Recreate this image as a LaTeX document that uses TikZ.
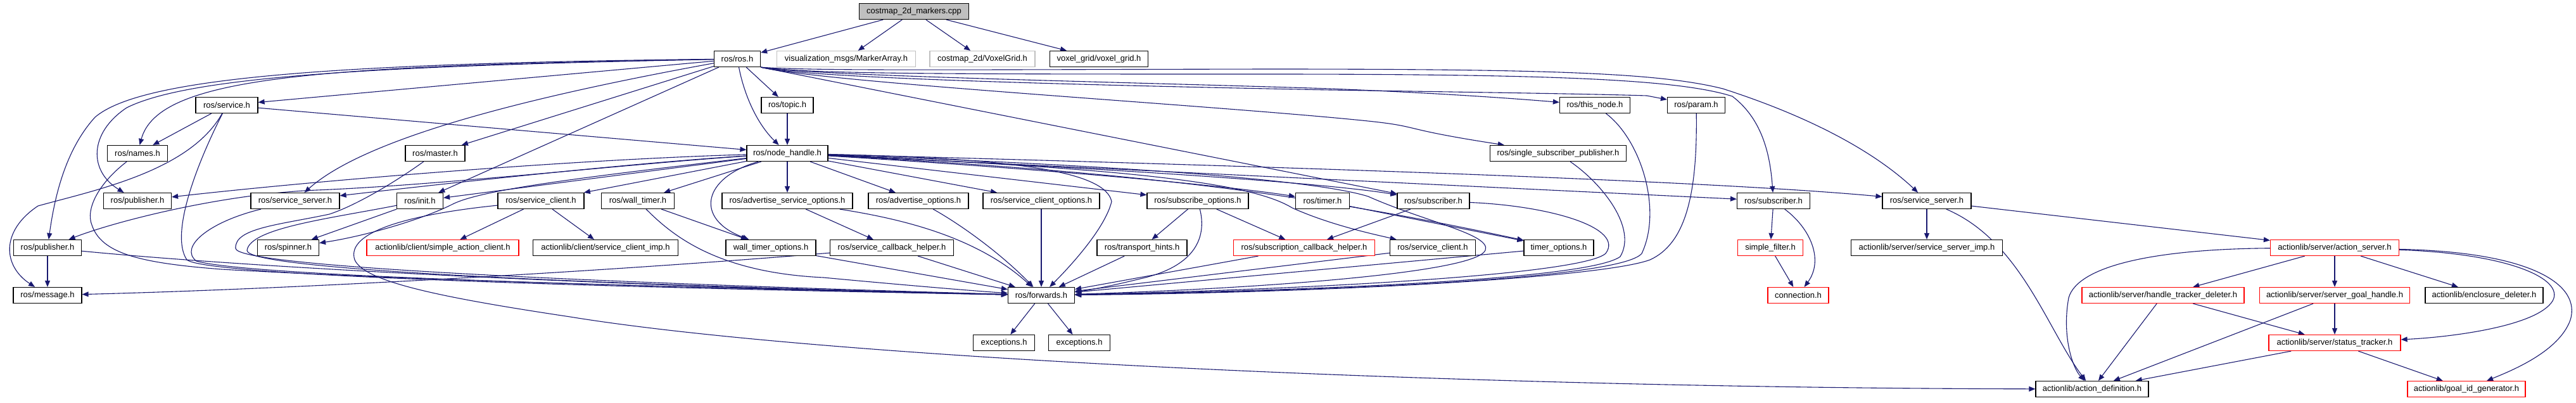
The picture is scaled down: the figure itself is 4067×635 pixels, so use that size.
\documentclass[tikz,border=0pt]{standalone}
\usepackage{fontspec}
\setmainfont{Liberation Sans}
\usetikzlibrary{arrows.meta}
\definecolor{edgec}{RGB}{25,25,112}
\definecolor{lgray}{RGB}{191,191,191}
\pgfdeclarelayer{background}
\pgfsetlayers{background,main}
\tikzset{
  box/.style={draw=black, line width=1.2pt, fill=white, minimum height=25pt, inner sep=0pt, font=\fontsize{13}{15}\selectfont},
  rbox/.style={box, draw=red},
  gbox/.style={box, draw=lgray},
  dep/.style={draw=edgec, line width=1.1pt, -{Triangle[length=10pt,width=8pt]}},
}
\begin{document}
\begin{tikzpicture}[x=1pt,y=-1pt]
\useasboundingbox (0,0) rectangle (4067,635);
% ---------- nodes ----------
\node[box,fill=lgray,minimum width=173pt] (cpp) at (1443,18) {costmap\_2d\_markers.cpp};
\node[box,minimum width=73pt] (ros) at (1164,93) {ros/ros.h};
\node[gbox,minimum width=219pt] (marker) at (1336,93) {visualization\_msgs/MarkerArray.h};
\node[gbox,minimum width=166pt] (vgc) at (1551,93) {costmap\_2d/VoxelGrid.h};
\node[box,minimum width=155pt] (vg) at (1735,93) {voxel\_grid/voxel\_grid.h};
\node[box,minimum width=98pt] (service) at (358,166) {ros/service.h};
\node[box,minimum width=82pt] (topic) at (1243,166) {ros/topic.h};
\node[box,minimum width=111pt] (thisnode) at (2518,166) {ros/this\_node.h};
\node[box,minimum width=91pt] (param) at (2678,166) {ros/param.h};
\node[box,minimum width=95pt] (names) at (217,242) {ros/names.h};
\node[box,minimum width=94pt] (master) at (687,242) {ros/master.h};
\node[box,minimum width=128pt] (nh) at (1243,242) {ros/node\_handle.h};
\node[box,minimum width=215pt] (ssp) at (2460,242) {ros/single\_subscriber\_publisher.h};
\node[box,minimum width=107pt] (pubA) at (217,317) {ros/publisher.h};
\node[box,minimum width=140pt] (ssA) at (466,317) {ros/service\_server.h};
\node[box,minimum width=73pt] (init) at (663,317) {ros/init.h};
\node[box,minimum width=136pt] (scA) at (854,317) {ros/service\_client.h};
\node[box,minimum width=115pt] (wt) at (1007,317) {ros/wall\_timer.h};
\node[box,minimum width=206pt] (aso) at (1243,317) {ros/advertise\_service\_options.h};
\node[box,minimum width=158pt] (ao) at (1450,317) {ros/advertise\_options.h};
\node[box,minimum width=184pt] (sco) at (1644,317) {ros/service\_client\_options.h};
\node[box,minimum width=160pt] (subo) at (1891,317) {ros/subscribe\_options.h};
\node[box,minimum width=85pt] (timer) at (2088,317) {ros/timer.h};
\node[box,minimum width=114pt] (subA) at (2263,317) {ros/subscriber.h};
\node[box,minimum width=115pt] (subB) at (2800,317) {ros/subscriber.h};
\node[box,minimum width=140pt] (ssB) at (3042,317) {ros/service\_server.h};
\node[box,minimum width=107pt] (pubB) at (75,391) {ros/publisher.h};
\node[box,minimum width=97pt] (spin) at (455,391) {ros/spinner.h};
\node[rbox,minimum width=240pt] (sac) at (699,391) {actionlib/client/simple\_action\_client.h};
\node[box,minimum width=229pt] (sci) at (956,391) {actionlib/client/service\_client\_imp.h};
\node[box,minimum width=142pt] (wto) at (1217,391) {wall\_timer\_options.h};
\node[box,minimum width=195pt] (sch) at (1408,391) {ros/service\_callback\_helper.h};
\node[box,minimum width=142pt] (th) at (1803,391) {ros/transport\_hints.h};
\node[rbox,minimum width=223pt] (scbh) at (2059,391) {ros/subscription\_callback\_helper.h};
\node[box,minimum width=135pt] (scB) at (2262,391) {ros/service\_client.h};
\node[box,minimum width=110pt] (to) at (2461,391) {timer\_options.h};
\node[rbox,minimum width=103pt] (sf) at (2795,391) {simple\_filter.h};
\node[box,minimum width=239pt] (ssi) at (3042,391) {actionlib/server/service\_server\_imp.h};
\node[rbox,minimum width=203pt] (as) at (3686,391) {actionlib/server/action\_server.h};
\node[box,minimum width=108pt] (msg) at (75,466) {ros/message.h};
\node[box,minimum width=105pt] (fw) at (1644,466) {ros/forwards.h};
\node[rbox,minimum width=96pt] (conn) at (2839,466) {connection.h};
\node[rbox,minimum width=256pt] (htd) at (3415,466) {actionlib/server/handle\_tracker\_deleter.h};
\node[rbox,minimum width=237pt] (sgh) at (3686,466) {actionlib/server/server\_goal\_handle.h};
\node[box,minimum width=186pt] (encl) at (3922,466) {actionlib/enclosure\_deleter.h};
\node[box,minimum width=97pt] (exc1) at (1585,541) {exceptions.h};
\node[box,minimum width=97pt] (exc2) at (1704,541) {exceptions.h};
\node[rbox,minimum width=208pt] (st) at (3686,541) {actionlib/server/status\_tracker.h};
\node[box,minimum width=178pt] (ad) at (3303,614) {actionlib/action\_definition.h};
\node[rbox,minimum width=186pt] (gid) at (3894,614) {actionlib/goal\_id\_generator.h};
% ---------- edges ----------
\begin{pgfonlayer}{background}
\fill[white] (0,0) rectangle (4067,635);
% cpp
\draw[dep] (cpp) -- (ros);
\draw[dep] (cpp) -- (marker);
\draw[dep] (cpp) -- (vgc);
\draw[dep] (cpp) -- (vg);
% ros
\draw[dep] (ros) -- (service);
\draw[dep] (ros) .. controls (500,104) and (250,120) .. (names);
\draw[dep] (ros) .. controls (600,104) and (300,120) .. (200,170) .. controls (140,210) and (140,270) .. (pubA);
\draw[dep] (ros) .. controls (500,100) and (220,125) .. (150,185) .. controls (100,240) and (85,320) .. (pubB);
\draw[dep] (ros) -- (master);
\draw[dep] (ros) -- (init);
\draw[dep] (ros) .. controls (850,150) and (580,215) .. (ssA);
\draw[dep] (ros) -- (topic);
\draw[dep] (ros) .. controls (1175,150) and (1195,195) .. (nh);
\draw[dep] (ros.south east) .. controls (1280,120) and (1800,130) .. (2100,140) .. controls (2300,148) and (2420,158) .. (thisnode);
\draw[dep] (ros.south east) .. controls (1280,125) and (1800,136) .. (2100,142) .. controls (2350,146) and (2500,148) .. (2600,151) -- (param);
\draw[dep] (ros.south east) .. controls (1300,130) and (1900,165) .. (2150,190) .. controls (2250,200) and (2200,202) .. (ssp);
\draw[dep] (ros.south east) -- (subA);
\draw[dep] (ros.south east) .. controls (1280,117) and (1500,117) .. (2000,117) .. controls (2450,117) and (2650,125) .. (2735,152) .. controls (2785,190) and (2795,250) .. (subB);
\draw[dep] (ros.south east) .. controls (1280,112) and (1500,110) .. (2000,109) .. controls (2450,109) and (2620,115) .. (2720,140) .. controls (2860,185) and (2960,240) .. (ssB);
% service
\draw[dep] (service) -- (names);
\draw[dep] (service) -- (nh);
\draw[dep] (service) .. controls (300,270) and (150,300) .. (60,325) .. controls (0,365) and (5,420) .. (msg);
\draw[dep] (service) .. controls (310,260) and (268,370) .. (295,410) .. controls (330,440) and (1200,458) .. (fw);
\draw[dep] (topic) -- (nh);
% names, master, init, ssA
\draw[dep] (names) .. controls (155,290) and (135,330) .. (145,355) .. controls (160,400) and (220,415) .. (350,425) .. controls (700,445) and (1200,456) .. (fw);
\draw[dep] (master) .. controls (620,290) and (560,325) .. (520,338) .. controls (440,355) and (370,360) .. (372,392) .. controls (374,420) and (900,445) .. (fw);
\draw[dep] (init) .. controls (520,345) and (395,360) .. (390,395) .. controls (388,425) and (900,448) .. (fw);
\draw[dep] (init) -- (spin);
\draw[dep] (ssA) .. controls (330,350) and (282,390) .. (310,412) .. controls (400,438) and (1100,454) .. (fw);
% publisher / message
\draw[dep] (pubB) -- (msg);
\draw[dep] (pubB) .. controls (500,432) and (1200,458) .. (fw);
\draw[dep] (sch) .. controls (1000,425) and (500,455) .. (msg);
\draw[dep] (sch) -- (fw);
% node_handle
\draw[dep] (nh) .. controls (900,252) and (500,285) .. (pubA);
\draw[dep] (nh) .. controls (1000,257) and (700,290) .. (ssA);
\draw[dep] (nh) -- (init);
\draw[dep] (nh) .. controls (900,282) and (760,300) .. (715,322) .. controls (670,345) and (580,372) .. (spin);
\draw[dep] (nh) .. controls (1000,258) and (700,292) .. (500,300) .. controls (350,306) and (180,350) .. (pubB);
\draw[dep] (nh) -- (scA);
\draw[dep] (nh) -- (wt);
\draw[dep] (nh) .. controls (1110,280) and (1095,345) .. (wto);
\draw[dep] (nh) -- (aso);
\draw[dep] (nh) -- (ao);
\draw[dep] (nh) -- (sco);
\draw[dep] (nh) -- (subo);
\draw[dep] (nh) .. controls (1700,270) and (1950,295) .. (timer);
\draw[dep] (nh) .. controls (1800,268) and (2100,290) .. (subA);
\draw[dep] (nh) -- (subB);
\draw[dep] (nh) .. controls (2000,262) and (2700,285) .. (ssB);
\draw[dep] (nh) .. controls (1750,265) and (1970,285) .. (2040,328) .. controls (2100,355) and (2170,370) .. (scB);
\draw[dep] (nh) .. controls (1800,272) and (2060,305) .. (to);
\draw[dep] (nh) .. controls (1600,250) and (1745,270) .. (1755,318) .. controls (1745,360) and (1690,420) .. (fw);
\draw[dep] (nh) .. controls (1800,262) and (2080,285) .. (2160,310) .. controls (2250,350) and (2355,370) .. (2345,395) .. controls (2330,430) and (2000,455) .. (fw);
% service_client
\draw[dep] (scA) -- (sac);
\draw[dep] (scA) -- (sci);
\draw[dep] (scA) .. controls (650,338) and (545,365) .. (560,410) .. controls (575,445) and (700,470) .. (900,500) .. controls (1300,565) and (2300,612) .. (ad);
% wall timer
\draw[dep] (wt) -- (wto);
\draw[dep] (wt) .. controls (1060,370) and (1130,430) .. (1300,438) .. controls (1450,452) and (1550,460) .. (fw);
\draw[dep] (wto) -- (fw);
% options
\draw[dep] (aso) -- (sch);
\draw[dep] (aso) .. controls (1420,345) and (1540,372) .. (fw);
\draw[dep] (ao) .. controls (1530,362) and (1590,410) .. (fw);
\draw[dep] (sco) -- (fw);
\draw[dep] (subo) -- (th);
\draw[dep] (subo) -- (scbh);
\draw[dep] (subo) .. controls (1905,372) and (1890,420) .. (1800,440) .. controls (1760,450) and (1720,458) .. (fw);
\draw[dep] (th) -- (fw);
\draw[dep] (scbh) -- (fw);
\draw[dep] (scB) -- (fw);
\draw[dep] (to) -- (fw);
\draw[dep] (timer) -- (to);
% subscriber A
\draw[dep] (subA) -- (scbh);
\draw[dep] (subA) .. controls (2450,325) and (2565,360) .. (2535,400) .. controls (2500,432) and (2100,456) .. (fw);
% ssp, this_node, param
\draw[dep] (ssp) .. controls (2530,290) and (2585,360) .. (2558,405) .. controls (2510,440) and (2100,458) .. (fw);
\draw[dep] (thisnode) .. controls (2590,220) and (2625,330) .. (2592,400) .. controls (2560,440) and (2100,460) .. (fw);
\draw[dep] (param) .. controls (2680,310) and (2660,385) .. (2605,410) .. controls (2530,438) and (2100,462) .. (fw);
% subscriber B
\draw[dep] (subB) -- (sf);
\draw[dep] (subB) .. controls (2858,360) and (2880,410) .. (conn);
\draw[dep] (sf) -- (conn);
% service server B
\draw[dep] (ssB) -- (ssi);
\draw[dep] (ssB) -- (as);
\draw[dep] (ssB) .. controls (3190,380) and (3232,520) .. (ad);
% action server
\draw[dep] (as) -- (htd);
\draw[dep] (as) -- (sgh);
\draw[dep] (as) -- (encl);
\draw[dep] (as) .. controls (3960,400) and (4050,440) .. (4030,475) .. controls (4005,515) and (3870,532) .. (st);
\draw[dep] (as) .. controls (4000,398) and (4075,450) .. (4058,505) .. controls (4040,555) and (3965,585) .. (gid);
\draw[dep] (as) .. controls (3400,393) and (3280,420) .. (3266,470) .. controls (3255,530) and (3272,580) .. (ad);
\draw[dep] (htd) -- (ad);
\draw[dep] (htd) -- (st);
\draw[dep] (sgh) -- (st);
\draw[dep] (sgh) -- (ad);
\draw[dep] (st) -- (ad);
\draw[dep] (st) -- (gid);
% forwards
\draw[dep] (fw) -- (exc1);
\draw[dep] (fw) -- (exc2);
\end{pgfonlayer}
\end{tikzpicture}
\end{document}
